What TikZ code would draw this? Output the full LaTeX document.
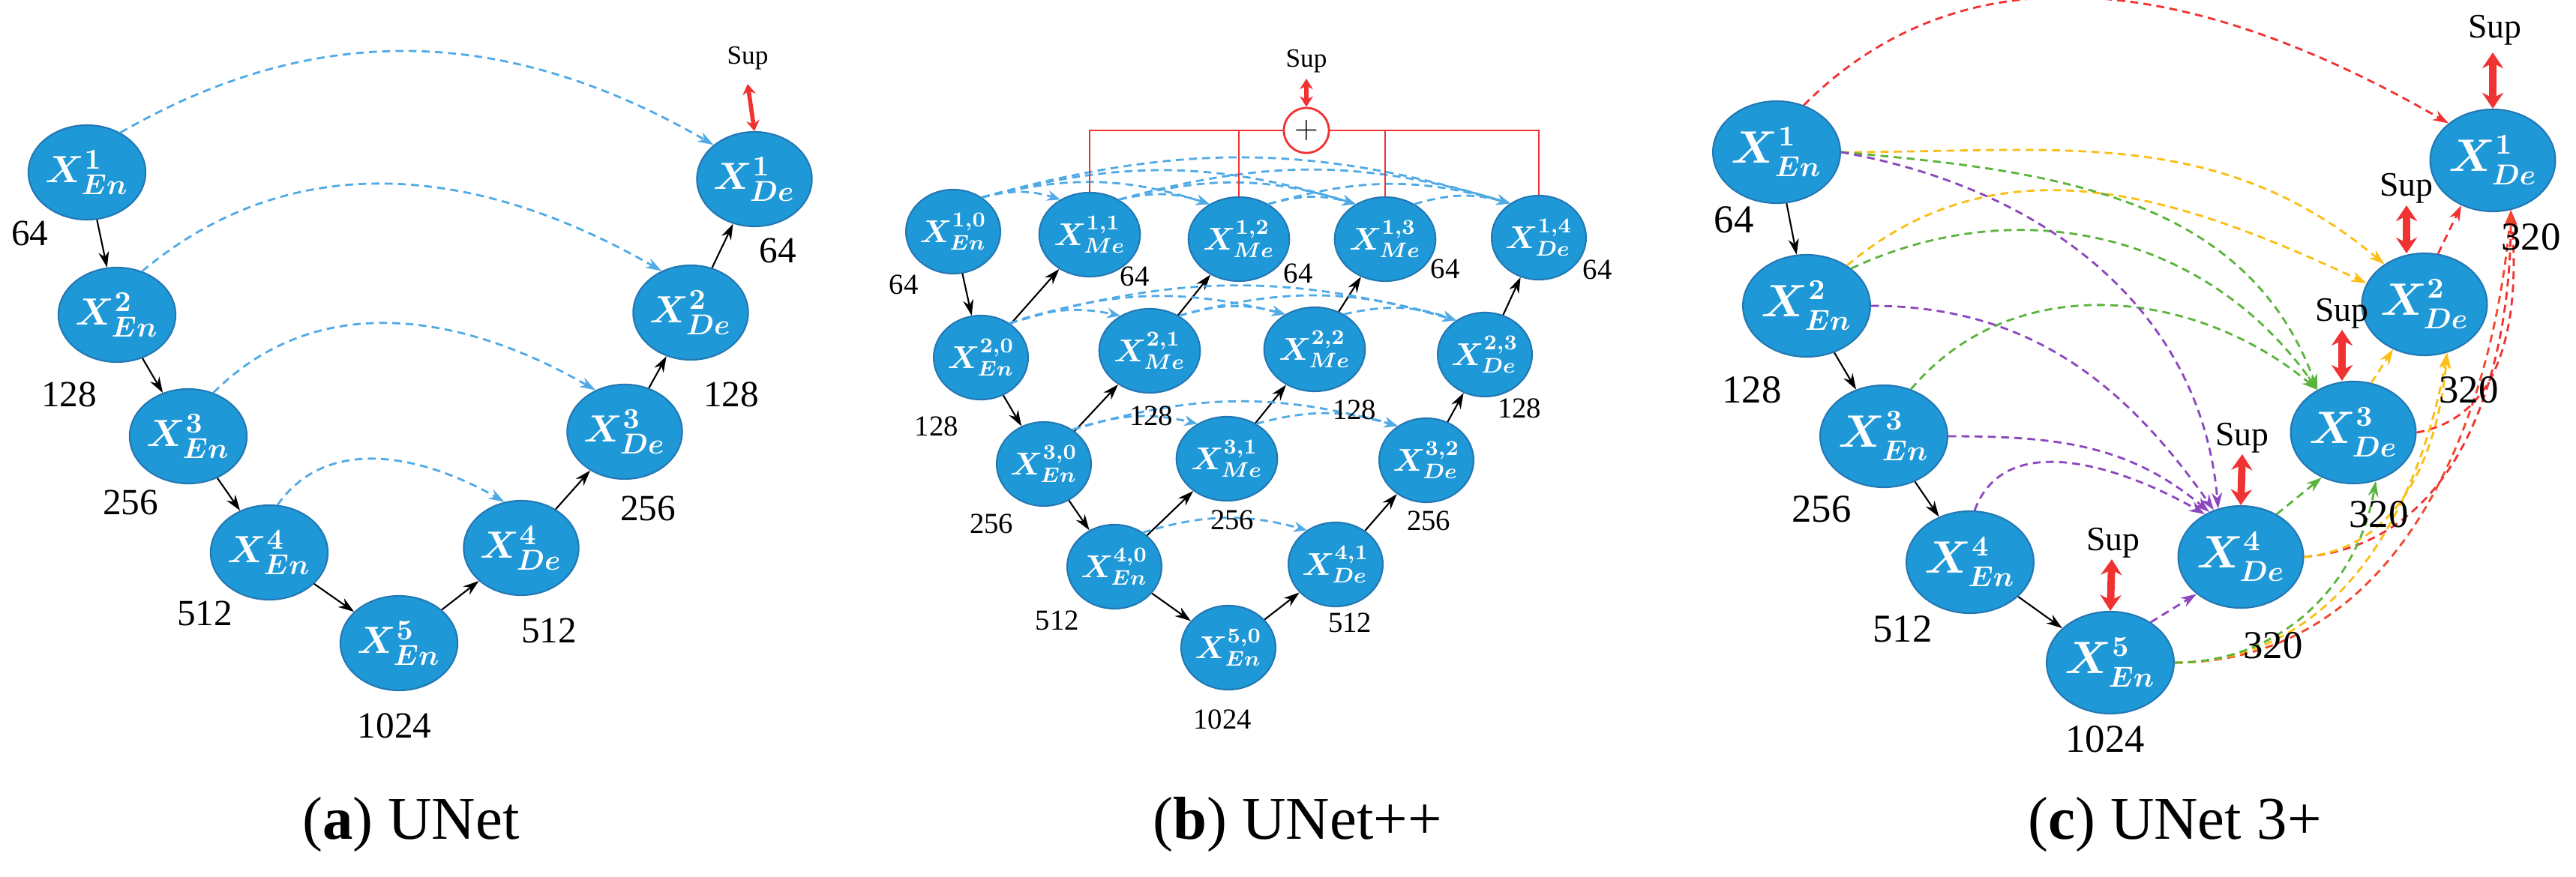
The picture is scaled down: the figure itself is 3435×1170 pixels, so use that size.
\documentclass[tikz,border=0pt]{standalone}
\usepackage{fontspec}
\setmainfont{Liberation Serif}
\usetikzlibrary{shapes.geometric,arrows.meta}
\definecolor{nblue}{RGB}{30,152,215}
\definecolor{nedge}{RGB}{35,120,180}
\definecolor{sblue}{RGB}{80,170,230}
\definecolor{cred}{RGB}{240,50,50}
\definecolor{cyel}{RGB}{250,190,20}
\definecolor{cgrn}{RGB}{90,180,60}
\definecolor{cpur}{RGB}{140,70,190}
\newcommand{\nx}[2]{{\boldmath$X^{#1}_{#2}$}}
\begin{document}
\begin{tikzpicture}[x=0.01cm,y=-0.01cm,
  nd/.style={fill=nblue,draw=nedge,line width=0.6pt,text=white,inner sep=0pt},
  na/.style={nd,ellipse,minimum width=1.40cm,minimum height=1.26cm,font=\fontsize{15}{15}\selectfont},
  nb/.style={nd,ellipse,minimum width=1.22cm,minimum height=1.12cm,font=\fontsize{12}{12}\selectfont},
  nc/.style={nd,ellipse,minimum width=1.52cm,minimum height=1.36cm,font=\fontsize{16}{16}\selectfont},
  la/.style={font=\fontsize{14}{14}\selectfont},
  lb/.style={font=\fontsize{11}{11}\selectfont},
  lc/.style={font=\fontsize{15}{15}\selectfont},
  blk/.style={-{Stealth[length=6pt,width=4pt]},line width=0.6pt},
  skip/.style={-{Stealth[length=6pt,width=4pt]},dashed,dash pattern=on 3pt off 2pt,line width=0.8pt},
  sup/.style={{Stealth[length=4pt,width=5pt]}-{Stealth[length=4pt,width=5pt]},cred,line width=1.6pt},
  supc/.style={{Stealth[length=6pt,width=8pt]}-{Stealth[length=6pt,width=8pt]},cred,line width=2.8pt},
  supt/.style={font=\fontsize{13}{13}\selectfont},
  capt/.style={font=\fontsize{23}{23}\selectfont}]
\useasboundingbox (0,0) rectangle (3435,1170);
% ---------- (a) ----------
\node[na] (a1) at (116,230) {\nx{1}{En}};
\node[na] (a2) at (156,420) {\nx{2}{En}};
\node[na] (a3) at (251,582) {\nx{3}{En}};
\node[na] (a4) at (359,737) {\nx{4}{En}};
\node[na] (a5) at (532,858) {\nx{5}{En}};
\node[na] (d4) at (695,731) {\nx{4}{De}};
\node[na] (d3) at (833,576) {\nx{3}{De}};
\node[na] (d2) at (921,417) {\nx{2}{De}};
\node[na] (d1) at (1006,239) {\nx{1}{De}};
\draw[blk] (a1) -- (a2); \draw[blk] (a2) -- (a3); \draw[blk] (a3) -- (a4); \draw[blk] (a4) -- (a5);
\draw[blk] (a5) -- (d4); \draw[blk] (d4) -- (d3); \draw[blk] (d3) -- (d2); \draw[blk] (d2) -- (d1);
\draw[skip,sblue] (a1.50) to[out=30,in=150] (d1.140);
\draw[skip,sblue] (a2.60) to[out=40,in=150] (d2.125);
\draw[skip,sblue] (a3.60) to[out=45,in=150] (d3.125);
\draw[skip,sblue] (a4.80) to[out=55,in=150] (d4.110);
\node[la] (la1) at (40,311) {64}; \node[la] (la2) at (92,526) {128};
\node[la] (la3) at (174,670) {256}; \node[la] (la4) at (273,818) {512};
\node[la] (la5) at (526,968) {1024}; \node[la] (ld4) at (732,841) {512};
\node[la] (ld3) at (864,678) {256}; \node[la] (ld2) at (975,526) {128};
\node[la] (ld1) at (1037,334) {64};
\node[font=\fontsize{10}{10}\selectfont] (supa) at (997,78) {Sup};
\coordinate (supa1) at (997,112);
\draw[sup] (supa1) -- (d1.north);
\node[capt] (capa) at (548,1100) {(\textbf{a}) UNet};
% ---------- (b) ----------
\node[nb] (b10) at (1271,309) {\nx{1,0}{En}};
\node[nb] (b11) at (1453,313) {\nx{1,1}{Me}};
\node[nb] (b12) at (1652,319) {\nx{1,2}{Me}};
\node[nb] (b13) at (1847,319) {\nx{1,3}{Me}};
\node[nb] (b14) at (2052,317) {\nx{1,4}{De}};
\node[nb] (b20) at (1308,477) {\nx{2,0}{En}};
\node[nb] (b21) at (1533,468) {\nx{2,1}{Me}};
\node[nb] (b22) at (1753,466) {\nx{2,2}{Me}};
\node[nb] (b23) at (1980,473) {\nx{2,3}{De}};
\node[nb] (b30) at (1392,619) {\nx{3,0}{En}};
\node[nb] (b31) at (1636,612) {\nx{3,1}{Me}};
\node[nb] (b32) at (1902,614) {\nx{3,2}{De}};
\node[nb] (b40) at (1486,756) {\nx{4,0}{En}};
\node[nb] (b41) at (1781,753) {\nx{4,1}{De}};
\node[nb] (b50) at (1638,864) {\nx{5,0}{En}};
\draw[blk] (b10) -- (b20); \draw[blk] (b20) -- (b30); \draw[blk] (b30) -- (b40); \draw[blk] (b40) -- (b50);
\draw[blk] (b20) -- (b11); \draw[blk] (b30) -- (b21); \draw[blk] (b21) -- (b12);
\draw[blk] (b40) -- (b31); \draw[blk] (b31) -- (b22); \draw[blk] (b22) -- (b13);
\draw[blk] (b50) -- (b41); \draw[blk] (b41) -- (b32); \draw[blk] (b32) -- (b23); \draw[blk] (b23) -- (b14);
\foreach \s/\t in {b10/b11,b10/b12,b10/b13,b10/b14,b11/b12,b11/b13,b11/b14,b12/b13,b12/b14,b13/b14,
  b20/b21,b20/b22,b20/b23,b21/b22,b21/b23,b22/b23,b30/b31,b30/b32,b31/b32,b40/b41}
  \draw[skip,sblue,-{Stealth[length=5pt,width=4pt]}] (\s.50) to[bend left=16] (\t.130);
\node[circle,draw=cred,fill=white,line width=0.8pt,minimum size=0.6cm,inner sep=0pt,font=\large] (plus) at (1742,174) {$+$};
\draw[cred,line width=0.8pt] (plus.west) -| (b11.north);
\draw[cred,line width=0.8pt] (plus.west) -| (b12.north);
\draw[cred,line width=0.8pt] (plus.east) -| (b13.north);
\draw[cred,line width=0.8pt] (plus.east) -| (b14.north);
\node[font=\fontsize{10}{10}\selectfont] (supb) at (1742,82) {Sup};
\coordinate (supb1) at (1742,105);
\draw[sup] (supb1) -- (plus.north);
\node[lb] at (1205,380) {64}; \node[lb] at (1513,369) {64}; \node[lb] at (1731,365) {64};
\node[lb] at (1927,359) {64}; \node[lb] at (2130,360) {64};
\node[lb] at (1249,569) {128}; \node[lb] at (1535,555) {128}; \node[lb] at (1806,547) {128}; \node[lb] at (2026,545) {128};
\node[lb] at (1322,699) {256}; \node[lb] at (1643,694) {256}; \node[lb] at (1905,695) {256};
\node[lb] at (1410,828) {512}; \node[lb] at (1800,831) {512};
\node[lb] at (1630,960) {1024};
\node[capt] (capb) at (1730,1100) {(\textbf{b}) UNet++};
% ---------- (c) ----------
\node[nc] (c1) at (2369,203) {\nx{1}{En}};
\node[nc] (c2) at (2409,408) {\nx{2}{En}};
\node[nc] (c3) at (2512,582) {\nx{3}{En}};
\node[nc] (c4) at (2627,750) {\nx{4}{En}};
\node[nc] (c5) at (2814,884) {\nx{5}{En}};
\node[nc] (e4) at (2988,743) {\nx{4}{De}};
\node[nc] (e3) at (3138,577) {\nx{3}{De}};
\node[nc] (e2) at (3233,406) {\nx{2}{De}};
\node[nc] (e1) at (3324,214) {\nx{1}{De}};
\draw[blk] (c1) -- (c2); \draw[blk] (c2) -- (c3); \draw[blk] (c3) -- (c4); \draw[blk] (c4) -- (c5);
% red -> e1
\draw[skip,cred] (c1.60) to[out=45,in=150] (e1.140);
\draw[skip,cred] (e2.75) -- (e1.235);
\draw[skip,cred] (e3.east) to[out=10,in=-85] (e1.290);
\draw[skip,cred] (e4.east) to[out=5,in=-90] (e1.290);
\draw[skip,cred!85!cyel] (c5.east) to[out=0,in=-95] (e1.290);
% yellow -> e2
\draw[skip,cyel] (c1.east) to[out=0,in=140] (e2.135);
\draw[skip,cyel] (c2.45) to[out=40,in=155] (e2.160);
\draw[skip,cyel] (e3.70) -- (e2.235);
\draw[skip,cyel] (e4.east) to[out=5,in=-95] (e2.295);
\draw[skip,cyel] (c5.east) to[out=0,in=-100] (e2.295);
% green -> e3
\draw[skip,cgrn] (c1.east) to[out=-5,in=110] (e3.130);
\draw[skip,cgrn] (c2.40) to[out=25,in=125] (e3.130);
\draw[skip,cgrn] (c3.60) to[out=50,in=140] (e3.130);
\draw[skip,cgrn] (e4.50) -- (e3.235);
\draw[skip,cgrn] (c5.east) to[out=0,in=-100] (e3.295);
% purple -> e4
\draw[skip,cpur] (c1.east) to[out=-10,in=95] (e4.115);
\draw[skip,cpur] (c2.east) to[out=0,in=125] (e4.120);
\draw[skip,cpur] (c3.east) to[out=0,in=140] (e4.125);
\draw[skip,cpur] (c4.85) to[out=70,in=150] (e4.130);
\draw[skip,cpur] (c5.45) -- (e4.220);
% labels
\node[lc] at (2312,293) {64}; \node[lc] at (2336,520) {128}; \node[lc] at (2429,679) {256};
\node[lc] at (2537,839) {512}; \node[lc] at (2807,986) {1024};
\node[lc] at (3375,316) {320}; \node[lc] at (3292,520) {320}; \node[lc] at (3172,686) {320}; \node[lc] at (3031,861) {320};
% sups
\node[supt] at (3327,40) {Sup}; \coordinate (s1) at (3324,70); \draw[supc] (s1) -- (e1.north);
\node[supt] at (3209,251) {Sup}; \coordinate (s2) at (3209,274); \draw[supc] (s2) -- (3209,338);
\node[supt] at (3123,418) {Sup}; \coordinate (s3) at (3123,440); \draw[supc] (s3) -- (3123,508);
\node[supt] at (2990,584) {Sup}; \coordinate (s4) at (2990,606); \draw[supc] (s4) -- (e4.north);
\node[supt] at (2818,724) {Sup}; \coordinate (s5) at (2816,746); \draw[supc] (s5) -- (c5.north);
\node[capt] (capc) at (2900,1100) {(\textbf{c}) UNet 3+};
\end{tikzpicture}
\end{document}
